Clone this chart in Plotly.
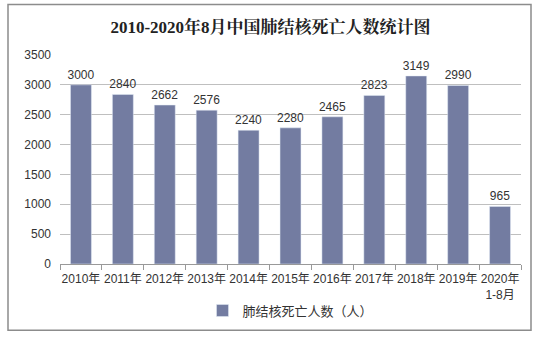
import plotly.graph_objects as go

years = ["2010年", "2011年", "2012年", "2013年", "2014年", "2015年", "2016年",
         "2017年", "2018年", "2019年", "2020年<br>1-8月"]
deaths = [3000, 2840, 2662, 2576, 2240, 2280, 2465, 2823, 3149, 2990, 965]
series_name = "肺结核死亡人数（人）"
title = "2010-2020年8月中国肺结核死亡人数统计图"

bar_color = "#737ca1"
font_fam = "Liberation Sans, Arial, Noto Sans CJK SC, sans-serif"

fig = go.Figure()
fig.add_trace(go.Bar(
    x=years, y=deaths, name=series_name, marker_color=bar_color,
    text=[str(v) for v in deaths], textposition="outside", constraintext="none",
    textfont=dict(size=12, color="#333333", family=font_fam),
    cliponaxis=False, showlegend=True,
))

L, R, T, B = 60, 20, 55, 72
W, H = 541, 338
pw, ph = W - L - R, H - T - B

def px(x):
    return (x - L) / pw

def py(y):
    return (H - B - y) / ph

fig.update_layout(
    width=W, height=H,
    margin=dict(l=L, r=R, t=T, b=B),
    paper_bgcolor="white", plot_bgcolor="white",
    bargap=0.5,
    uniformtext=dict(mode=False),
    title=dict(text="<b>" + title + "</b>", x=0.5, xanchor="center", y=1 - 27 / H, yanchor="middle",
               font=dict(size=17, color="#222222",
                         family="Liberation Serif, Times New Roman, Noto Serif CJK SC, Noto Sans CJK SC, serif")),
    showlegend=True,
    legend=dict(orientation="h", x=0.5, xanchor="center", y=py(313), yanchor="middle",
                font=dict(size=13, color="#333333", family="Noto Sans CJK SC, sans-serif")),
    xaxis=dict(type="category", showline=True, linecolor="#999999", linewidth=1,
               ticks="outside", tickson="boundaries", ticklen=5, tickcolor="#999999",
               tickangle=0, ticklabelstandoff=4,
               tickfont=dict(size=12, color="#333333", family=font_fam),
               showgrid=False),
    yaxis=dict(range=[0, 3500], dtick=500, showgrid=True, gridcolor="#bfbfbf",
               gridwidth=1, zeroline=False, showline=False,
               tickfont=dict(size=12, color="#333333", family=font_fam),
               ticks="", ticklabelstandoff=8),
    shapes=[dict(type="rect", xref="paper", yref="paper",
                 x0=px(8), x1=px(531), y0=py(333), y1=py(4),
                 line=dict(color="#8c8c8c", width=1.5), fillcolor="rgba(0,0,0,0)", layer="below")],
)

fig.write_html("out.html")
